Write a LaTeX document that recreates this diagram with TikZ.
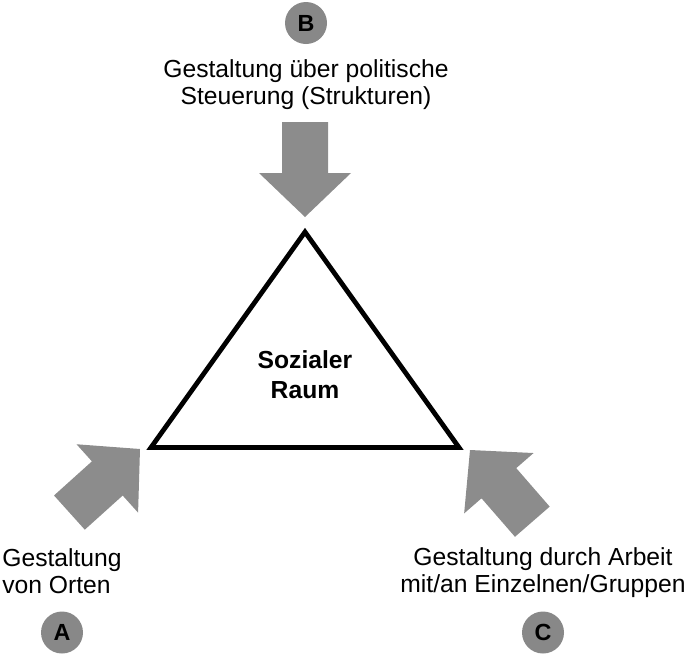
\documentclass[tikz,border=0pt]{standalone}
\usepackage{fontspec}
\setmainfont{Liberation Sans}
\usepackage{tikz}
\usetikzlibrary{positioning}
\definecolor{raumGray}{RGB}{140, 140, 140}
\definecolor{raumDot}{RGB}{136, 136, 136}

\begin{document}
\begin{tikzpicture}[x=0.75pt, y=-0.75pt,
  dot/.style={circle, fill=raumDot, minimum size=31.5pt, inner sep=0pt,
              font=\fontsize{17.5}{19}\selectfont\bfseries},
  label/.style={inner sep=0pt, align=center,
                font=\fontsize{18.5}{20.5}\selectfont},
  bigarrow/.pic={
    \fill[raumGray] (0,0) -- (-44,46) -- (-44,23) -- (-95,23)
      -- (-95,-23) -- (-44,-23) -- (-44,-46) -- cycle;
  },
]
  \useasboundingbox (0,0) rectangle (685,654);

  % the three corners of the triangle
  \coordinate (top) at (305,232);
  \coordinate (left) at (151,447.5);
  \coordinate (right) at (459,447.5);
  \draw[line width=3.6pt, line join=miter] (top) -- (left) -- (right) -- cycle;
  \node[inner sep=0pt, align=center,
        font=\fontsize{18.5}{22.5}\selectfont\bfseries] (raum) at (305,375)
    {Sozialer\\Raum};

  % B (top)
  \node[dot] (circB) at (306,23) {B};
  \node[label, below=11pt of circB] (txtB)
    {Gestaltung über politische\\Steuerung (Strukturen)};
  \coordinate (tipB) at (305,217);
  \pic[rotate=-90] at (tipB) {bigarrow};

  % A (bottom left)
  \node[dot] (circA) at (62,632.5) {A};
  \node[label, align=left, above=13pt of circA] (txtA)
    {Gestaltung\\von Orten};
  \coordinate (tipA) at (140,449);
  \pic[rotate=42] at (tipA) {bigarrow};

  % C (bottom right)
  \node[dot] (circC) at (543,632.5) {C};
  \node[label, above=10pt of circC] (txtC)
    {Gestaltung durch Arbeit\\mit/an Einzelnen/Gruppen};
  \coordinate (tipC) at (470,450);
  \pic[rotate=131] at (tipC) {bigarrow};
\end{tikzpicture}
\end{document}
